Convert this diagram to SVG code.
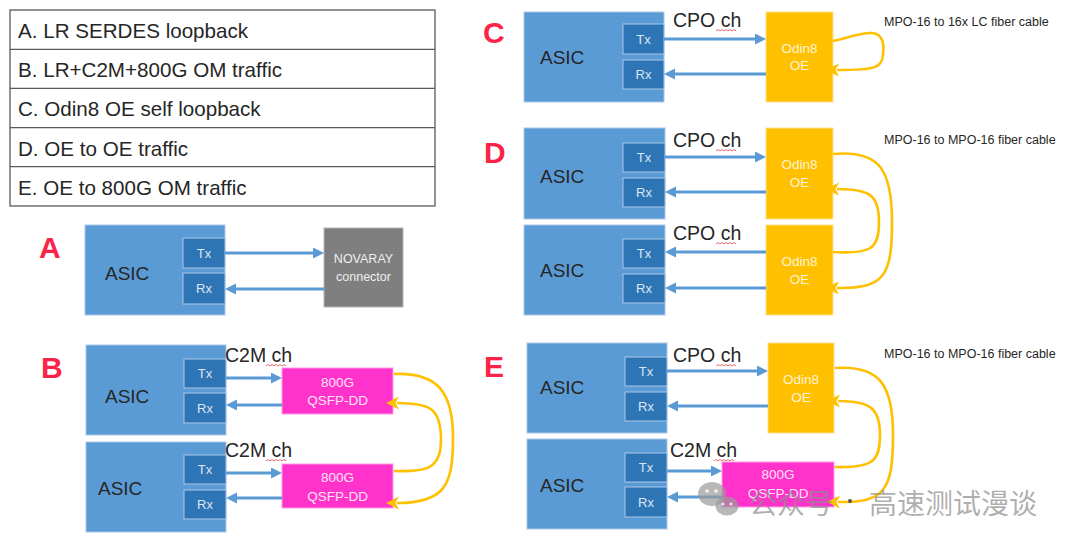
<svg xmlns="http://www.w3.org/2000/svg" xmlns:xlink="http://www.w3.org/1999/xlink" width="1080" height="543" viewBox="0 0 1080 543">
<defs>
<style>
text{font-family:"Liberation Sans",Arial,sans-serif}
.leg{font-size:20.6px;fill:#262626}
.sec{font-size:30px;font-weight:bold;fill:#fb2448}
.asic{fill:#5b9bd5;stroke:#a9c8e8;stroke-width:1}
.port{fill:#2e75b6;stroke:#a9c8e8;stroke-width:1}
.at{font-size:19px;fill:#262626}
.pt{font-size:13px;fill:#dce6f2;text-anchor:middle}
.odin{fill:#ffc000;stroke:#ffe08a;stroke-width:1}
.ot{font-size:13.5px;fill:#fff4d6;text-anchor:middle}
.qsfp{fill:#ff33cc;stroke:#ff9be6;stroke-width:1}
.qt{font-size:13.5px;fill:#ffe3f6;text-anchor:middle}
.nov{fill:#7f7f7f;stroke:#b5b5b5;stroke-width:1}
.nt{font-size:12.5px;fill:#eeeeee;text-anchor:middle}
.ch{font-size:19.5px;fill:#262626}
.cab{font-size:12.5px;fill:#262626}
.blue{stroke:#5b9bd5;stroke-width:3;fill:none;marker-end:url(#ab)}
.or{stroke:#ffc000;stroke-width:2.6;fill:none;marker-end:url(#ao)}
.sq{stroke:#e04848;stroke-width:0.8;fill:none}
.wm{font-family:"Noto Sans CJK SC","Noto Sans",sans-serif;font-size:28px;fill:#8c8c8c;fill-opacity:0.7}
</style>
<marker id="ab" markerUnits="userSpaceOnUse" markerWidth="12" markerHeight="12" refX="1" refY="5.5" orient="auto">
<path d="M0,0 L11,5.5 L0,11 z" fill="#5b9bd5"/>
</marker>
<marker id="ao" markerUnits="userSpaceOnUse" markerWidth="14" markerHeight="14" refX="2" refY="6.5" orient="auto">
<path d="M0,0 L13,6.5 L0,13 L3.5,6.5 z" fill="#ffc000"/>
</marker>
<path id="sqg" d="M0,0 l2,-1.5 l2,1.5 l2,-1.5 l2,1.5 l2,-1.5 l2,1.5 l2,-1.5 l2,1.5 l2,-1.5 l2,1.5"/>
</defs>
<rect width="1080" height="543" fill="#ffffff"/>

<g id="legend">
<rect x="10" y="10" width="425" height="196" fill="#fff" stroke="#595959" stroke-width="1.3"/>
<path d="M10,49.3H435M10,88.3H435M10,127.7H435M10,166.7H435" stroke="#595959" stroke-width="1.3"/>
<text class="leg" x="18" y="38">A. LR SERDES loopback</text>
<text class="leg" x="18" y="77">B. LR+C2M+800G OM traffic</text>
<text class="leg" x="18" y="116">C. Odin8 OE self loopback</text>
<text class="leg" x="18" y="156">D. OE to OE traffic</text>
<text class="leg" x="18" y="195">E. OE to 800G OM traffic</text>
</g>

<g id="labels">
<text class="sec" x="39" y="258">A</text>
<text class="sec" x="41" y="378">B</text>
<text class="sec" x="483" y="43">C</text>
<text class="sec" x="484" y="163">D</text>
<text class="sec" x="484" y="377">E</text>
</g>

<!-- Section A -->
<g id="A-asic">
<rect class="asic" x="85" y="225" width="140" height="90"/>
<text class="at" x="105" y="280">ASIC</text>
<rect class="port" x="183" y="238" width="42" height="30"/>
<text class="pt" x="204" y="258">Tx</text>
<rect class="port" x="183" y="273" width="42" height="31"/>
<text class="pt" x="204" y="293">Rx</text>
</g>
<g id="A-novaray">
<rect class="nov" x="324" y="228" width="79" height="79"/>
<text class="nt" x="363.5" y="263">NOVARAY</text>
<text class="nt" x="363.5" y="281">connector</text>
</g>

<!-- Section B -->
<g id="B-asic1">
<rect class="asic" x="86" y="345" width="140" height="90"/>
<text class="at" x="105" y="403">ASIC</text>
<rect class="port" x="184" y="359" width="42" height="29"/>
<text class="pt" x="205" y="378">Tx</text>
<rect class="port" x="184" y="393" width="42" height="30"/>
<text class="pt" x="205" y="413">Rx</text>
</g>
<g id="B-asic2">
<rect class="asic" x="86" y="442" width="140" height="90"/>
<text class="at" x="98" y="495">ASIC</text>
<rect class="port" x="184" y="455" width="42" height="29"/>
<text class="pt" x="205" y="474">Tx</text>
<rect class="port" x="184" y="490" width="42" height="29"/>
<text class="pt" x="205" y="509">Rx</text>
</g>
<g id="B-qsfp1">
<rect class="qsfp" x="282" y="368" width="111" height="46"/>
<text class="qt" x="337.5" y="387">800G</text>
<text class="qt" x="337.5" y="405">QSFP-DD</text>
</g>
<g id="B-qsfp2">
<rect class="qsfp" x="282" y="464" width="111" height="44"/>
<text class="qt" x="337.5" y="482">800G</text>
<text class="qt" x="337.5" y="501">QSFP-DD</text>
</g>
<text class="ch" x="225" y="362">C2M ch</text>
<text class="ch" x="225" y="457">C2M ch</text>

<!-- Section C -->
<g id="C-asic">
<rect class="asic" x="524" y="12" width="140" height="90"/>
<text class="at" x="540" y="64">ASIC</text>
<rect class="port" x="623" y="24" width="41" height="30"/>
<text class="pt" x="643.5" y="44">Tx</text>
<rect class="port" x="623" y="60" width="41" height="29"/>
<text class="pt" x="643.5" y="79">Rx</text>
</g>
<g id="C-odin">
<rect class="odin" x="766" y="12" width="67" height="90"/>
<text class="ot" x="799.5" y="53">Odin8</text>
<text class="ot" x="799.5" y="70">OE</text>
</g>
<text class="ch" x="673" y="27">CPO ch</text>
<text class="cab" x="884" y="26">MPO-16 to 16x LC fiber cable</text>

<!-- Section D -->
<g id="D-asic1">
<rect class="asic" x="524" y="128" width="141" height="91"/>
<text class="at" x="540" y="183">ASIC</text>
<rect class="port" x="623" y="143" width="42" height="29"/>
<text class="pt" x="644" y="162">Tx</text>
<rect class="port" x="623" y="178" width="42" height="29"/>
<text class="pt" x="644" y="197">Rx</text>
</g>
<g id="D-asic2">
<rect class="asic" x="524" y="225" width="141" height="90"/>
<text class="at" x="540" y="277">ASIC</text>
<rect class="port" x="623" y="239" width="42" height="29"/>
<text class="pt" x="644" y="258">Tx</text>
<rect class="port" x="623" y="274" width="42" height="29"/>
<text class="pt" x="644" y="293">Rx</text>
</g>
<g id="D-odin1">
<rect class="odin" x="766" y="128" width="67" height="91"/>
<text class="ot" x="799.5" y="169">Odin8</text>
<text class="ot" x="799.5" y="187">OE</text>
</g>
<g id="D-odin2">
<rect class="odin" x="766" y="225" width="67" height="90"/>
<text class="ot" x="799.5" y="266">Odin8</text>
<text class="ot" x="799.5" y="284">OE</text>
</g>
<text class="ch" x="673" y="147">CPO ch</text>
<text class="ch" x="673" y="240">CPO ch</text>
<text class="cab" x="884" y="144">MPO-16 to MPO-16 fiber cable</text>

<!-- Section E -->
<g id="E-asic1">
<rect class="asic" x="527" y="343" width="140" height="90"/>
<text class="at" x="540" y="394">ASIC</text>
<rect class="port" x="625" y="357" width="42" height="29"/>
<text class="pt" x="646" y="376">Tx</text>
<rect class="port" x="625" y="392" width="42" height="29"/>
<text class="pt" x="646" y="411">Rx</text>
</g>
<g id="E-asic2">
<rect class="asic" x="527" y="439" width="140" height="90"/>
<text class="at" x="540" y="492">ASIC</text>
<rect class="port" x="625" y="453" width="42" height="29"/>
<text class="pt" x="646" y="472">Tx</text>
<rect class="port" x="625" y="487" width="42" height="30"/>
<text class="pt" x="646" y="507">Rx</text>
</g>
<g id="E-odin">
<rect class="odin" x="768" y="343" width="66" height="90"/>
<text class="ot" x="801" y="384">Odin8</text>
<text class="ot" x="801" y="402">OE</text>
</g>
<g id="E-qsfp">
<rect class="qsfp" x="722" y="462" width="112" height="45"/>
<text class="qt" x="778" y="479">800G</text>
<text class="qt" x="778" y="498">QSFP-DD</text>
</g>
<text class="ch" x="673" y="362">CPO ch</text>
<text class="ch" x="670" y="457">C2M ch</text>
<text class="cab" x="884" y="358">MPO-16 to MPO-16 fiber cable</text>

<g id="squiggles" class="sq">
<use xlink:href="#sqg" x="266" y="366"/>
<use xlink:href="#sqg" x="266" y="461"/>
<use xlink:href="#sqg" x="716" y="31"/>
<use xlink:href="#sqg" x="716" y="151"/>
<use xlink:href="#sqg" x="716" y="244"/>
<use xlink:href="#sqg" x="716" y="366"/>
<use xlink:href="#sqg" x="714" y="461"/>
</g>

<g id="connectors">
<!-- A -->
<line class="blue" x1="225" y1="253" x2="314" y2="253"/>
<line class="blue" x1="324" y1="289" x2="235" y2="289"/>
<!-- B -->
<line class="blue" x1="226" y1="378" x2="272" y2="378"/>
<line class="blue" x1="282" y1="405" x2="236" y2="405"/>
<line class="blue" x1="226" y1="473" x2="272" y2="473"/>
<line class="blue" x1="282" y1="498" x2="236" y2="498"/>
<path class="or" d="M394,374 C440,372 453,395 453,438 C453,485 445,503 397,503"/>
<path class="or" d="M394,471 C425,472 441,470 441,440 C441,408 430,403 397,403"/>
<!-- C -->
<line class="blue" x1="664" y1="39" x2="756" y2="39"/>
<line class="blue" x1="766" y1="74" x2="674" y2="74"/>
<path class="or" d="M833,41 C850,38 860,32 872,33 C884,34 884,46 883,55 C882,68 875,70 837,70"/>
<!-- D -->
<line class="blue" x1="665" y1="157" x2="756" y2="157"/>
<line class="blue" x1="766" y1="192" x2="675" y2="192"/>
<line class="blue" x1="766" y1="252" x2="675" y2="252"/>
<line class="blue" x1="766" y1="288" x2="675" y2="288"/>
<path class="or" d="M833,154 C880,150 892,170 892,222 C892,275 885,289 837,288"/>
<path class="or" d="M833,252 C870,254 879,250 879,222 C879,195 870,189 837,189"/>
<!-- E -->
<line class="blue" x1="667" y1="371" x2="758" y2="371"/>
<line class="blue" x1="768" y1="406" x2="677" y2="406"/>
<line class="blue" x1="667" y1="471" x2="712" y2="471"/>
<line class="blue" x1="722" y1="497" x2="677" y2="497"/>
<path class="or" d="M835,368 C880,365 893,385 893,435 C893,490 885,503 838,502"/>
<path class="or" d="M835,467 C872,468 880,462 880,435 C880,408 870,401 838,401"/>
</g>

<g id="watermark">
<g fill="#9a9a9a" fill-opacity="0.7">
<ellipse cx="712" cy="494" rx="14" ry="12"/>
<ellipse cx="727" cy="506" rx="11.5" ry="9.5"/>
</g>
<g fill="#ffffff" fill-opacity="0.8">
<circle cx="707" cy="491" r="1.8"/><circle cx="716" cy="491" r="1.8"/>
<circle cx="723" cy="504" r="1.5"/><circle cx="731" cy="504" r="1.5"/>
</g>
<text class="wm" x="749" y="514">公众号</text>
<circle cx="850" cy="501" r="2" fill="#555"/>
<text class="wm" x="869" y="514">高速测试漫谈</text>
</g>
</svg>
